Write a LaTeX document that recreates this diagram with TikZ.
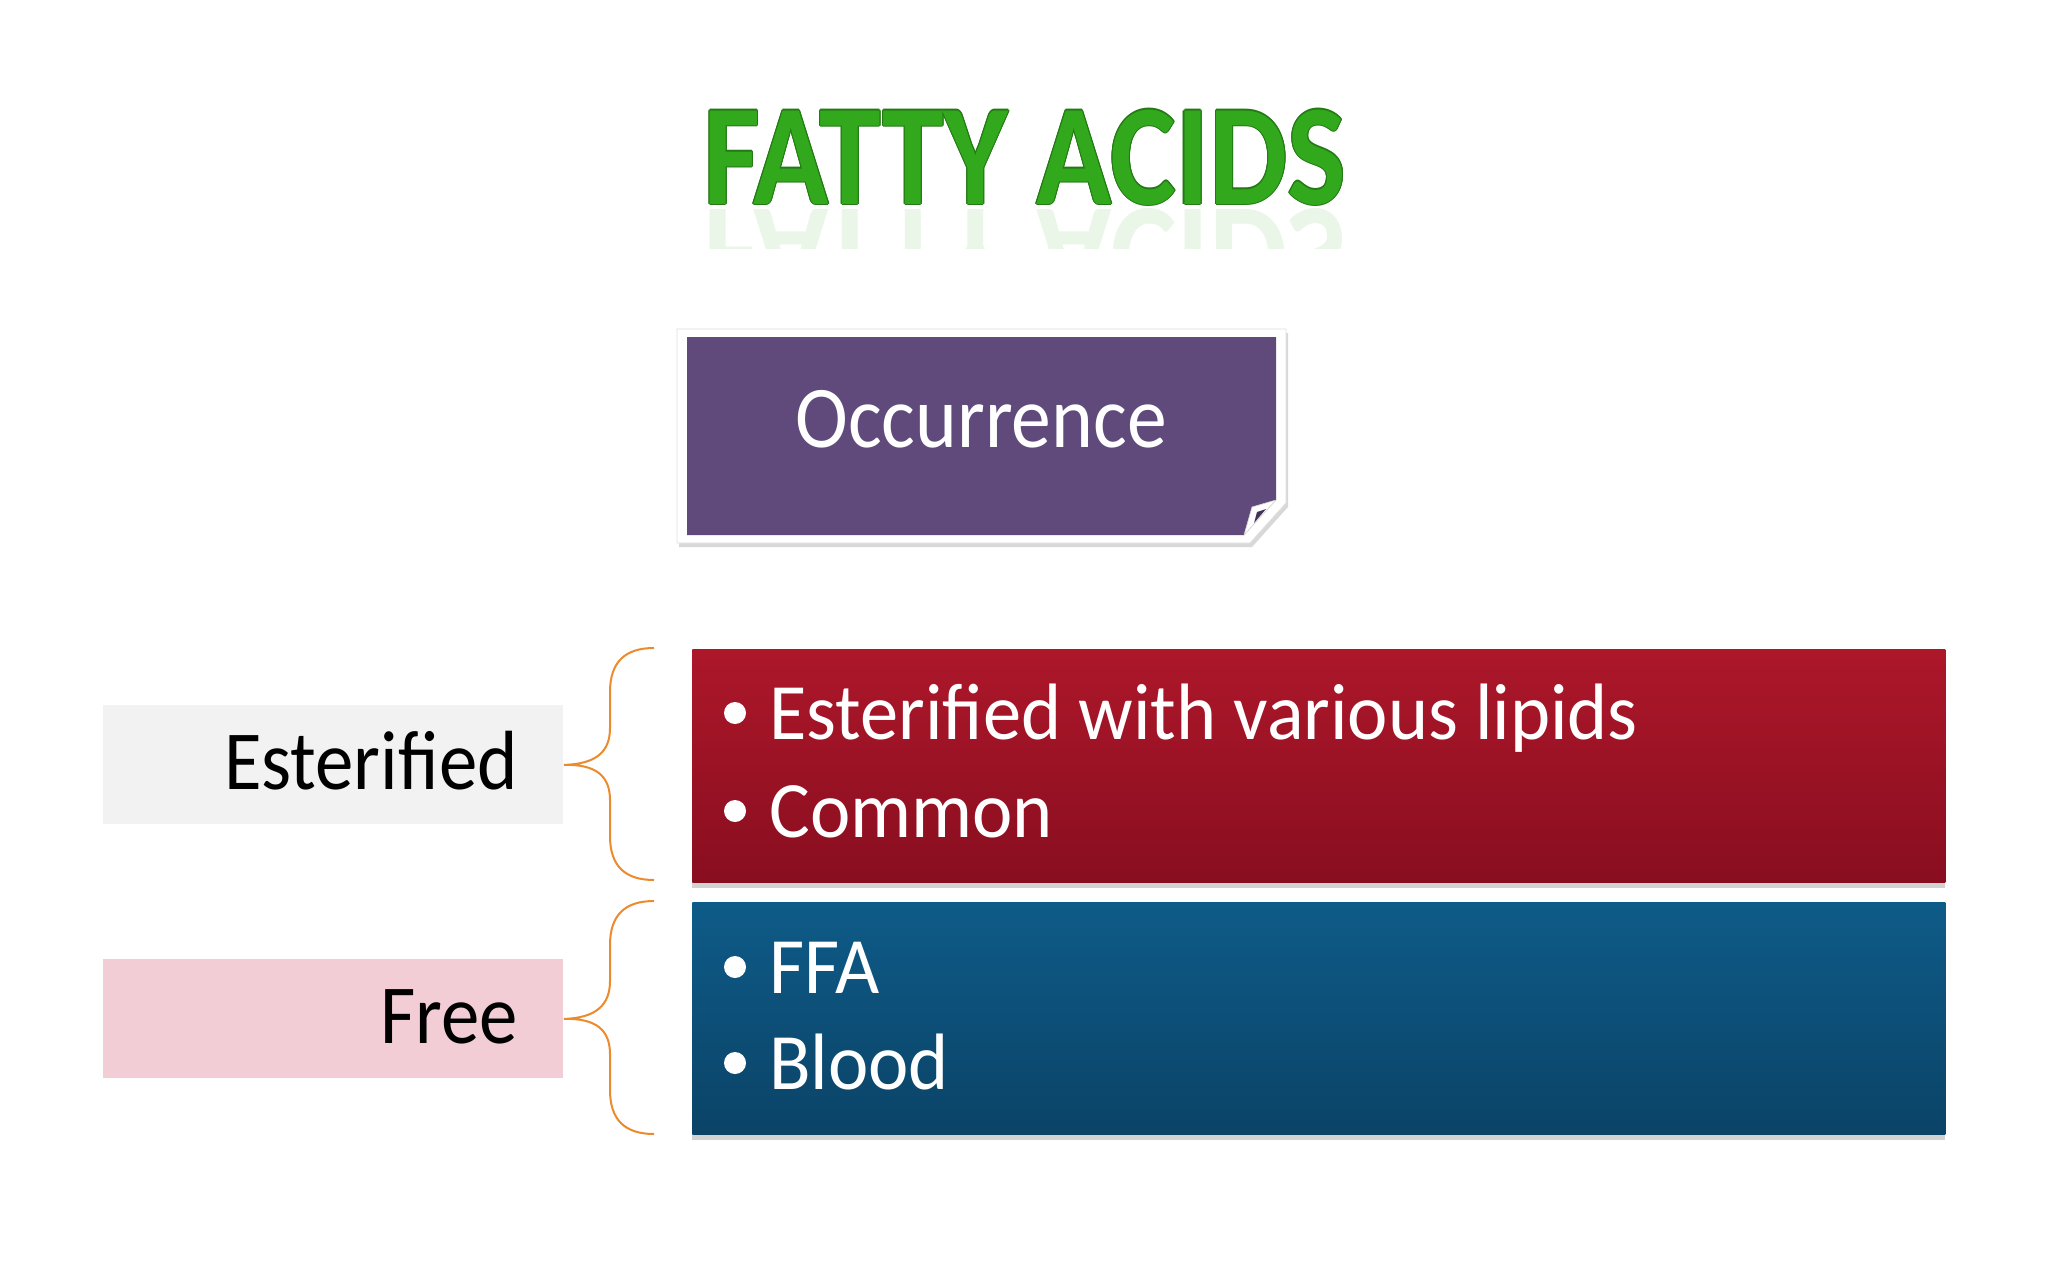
\documentclass[tikz,border=0pt]{standalone}
\usepackage{fontspec}
\setmainfont{Carlito}
\usetikzlibrary{shadows}
\definecolor{titlegreen}{HTML}{32A81D}
\definecolor{titledark}{HTML}{237A14}
\definecolor{occpurple}{HTML}{604A7B}
\definecolor{estgray}{HTML}{F2F2F2}
\definecolor{freepink}{HTML}{F2CDD6}
\definecolor{redtop}{HTML}{AD172A}
\definecolor{redbot}{HTML}{880E1F}
\definecolor{bluetop}{HTML}{0E5B88}
\definecolor{bluebot}{HTML}{0B4367}
\definecolor{braceorange}{HTML}{EC8A2E}
\tikzset{
  titlefont/.style={inner sep=0pt, anchor=base, xscale=0.863, transform shape, font=\fontsize{72}{72}\selectfont\bfseries},
  lblbox/.style={inner sep=0pt, anchor=north west, minimum width=230pt, minimum height=59.5pt},
  lbltext/.style={inner sep=0pt, anchor=base east, xscale=0.915, transform shape, font=\fontsize{42}{42}\selectfont, text=black},
  colbox/.style={inner sep=0pt, anchor=north west, minimum width=626.5pt, minimum height=116.5pt,
     drop shadow={shadow xshift=0pt, shadow yshift=-3pt, opacity=0.35, fill=gray}},
  bullettext/.style={inner sep=0pt, anchor=base west, xscale=0.955, transform shape, font=\fontsize{40}{40}\selectfont, text=white},
  bulletdot/.style={circle, fill=white, inner sep=0pt, minimum size=11pt},
  bracestyle/.style={draw=braceorange, line width=1pt},
}
\begin{document}
\begin{tikzpicture}[x=0.5pt,y=-0.5pt]
\useasboundingbox[fill=white] (0,0) rectangle (2048,1280);

% title reflection
\begin{scope}
  \clip (600,207) rectangle (1450,248);
  \node[titlefont, yscale=-1, text=titlegreen, text opacity=0.10] (titlerefl) at (1025,209) {FATTY ACIDS};
\end{scope}
% title outline + fill
\foreach \dx/\dy in {-1.2/0,1.2/0,0/-1.2,0/1.2,-0.85/-0.85,0.85/0.85,-0.85/0.85,0.85/-0.85}
  \node[titlefont, text=titledark] at (1025+\dx,204+\dy) {FATTY ACIDS};
\node[titlefont, text=titlegreen] (title) at (1025,204) {FATTY ACIDS};

% occurrence sticky note
\path[fill=white, draw=gray!25, line width=0.4pt, drop shadow={shadow xshift=1pt, shadow yshift=-2pt, opacity=0.3, fill=gray}]
  (677,329) -- (1286,329) -- (1286,503) -- (1250,543) -- (677,543) -- cycle;
\path[fill=occpurple] (687,337) -- (1276,337) -- (1276,500) -- (1252,507) -- (1244,535) -- (687,535) -- cycle;
\path[fill=white, draw=gray!40, line width=0.3pt] (1276,500) -- (1252,507) -- (1244,535) -- cycle;
\path[fill=occpurple!70!black] (1257,512) -- (1266,509) -- (1254,523) -- cycle;
\node[inner sep=0pt, anchor=base, xscale=0.905, transform shape, font=\fontsize{44}{44}\selectfont, text=white] (occ) at (981,447) {Occurrence};

% left labels
\node[lblbox, fill=estgray] (estbox) at (103,705) {};
\node[lbltext] (esttext) at (518,789) {Esterified};
\node[lblbox, fill=freepink] (freebox) at (103,959) {};
\node[lbltext] (freetext) at (518,1043) {Free};

% coloured boxes
\node[colbox, top color=redtop, bottom color=redbot] (redbox) at (692,649) {};
\node[colbox, top color=bluetop, bottom color=bluebot, minimum height=116pt] (bluebox) at (692,902) {};

\node[bulletdot] (b1) at (735,713) {};
\node[bullettext] (t1) at (769,739) {Esterified with various lipids};
\node[bulletdot] (b2) at (735,811) {};
\node[bullettext] (t2) at (769,837) {Common};
\node[bulletdot] (b3) at (735,967) {};
\node[bullettext] (t3) at (769,993) {FFA};
\node[bulletdot] (b4) at (735,1063) {};
\node[bullettext] (t4) at (769,1089) {Blood};

% braces
\coordinate (e1top) at (654,648);
\coordinate (e1bot) at (654,880);
\draw[bracestyle] (e1top) .. controls (625,648) and (610,662) .. (610,692) -- (610,728)
   .. controls (610,752) and (596,764) .. (estbox.east)
   .. controls (596,764) and (610,776) .. (610,800) -- (610,836)
   .. controls (610,866) and (625,880) .. (e1bot);
\coordinate (e2top) at (654,901);
\coordinate (e2bot) at (654,1134);
\draw[bracestyle] (e2top) .. controls (625,901) and (610,915) .. (610,945) -- (610,981)
   .. controls (610,1005) and (596,1018) .. (freebox.east)
   .. controls (596,1018) and (610,1030) .. (610,1054) -- (610,1090)
   .. controls (610,1120) and (625,1134) .. (e2bot);
\end{tikzpicture}
\end{document}
